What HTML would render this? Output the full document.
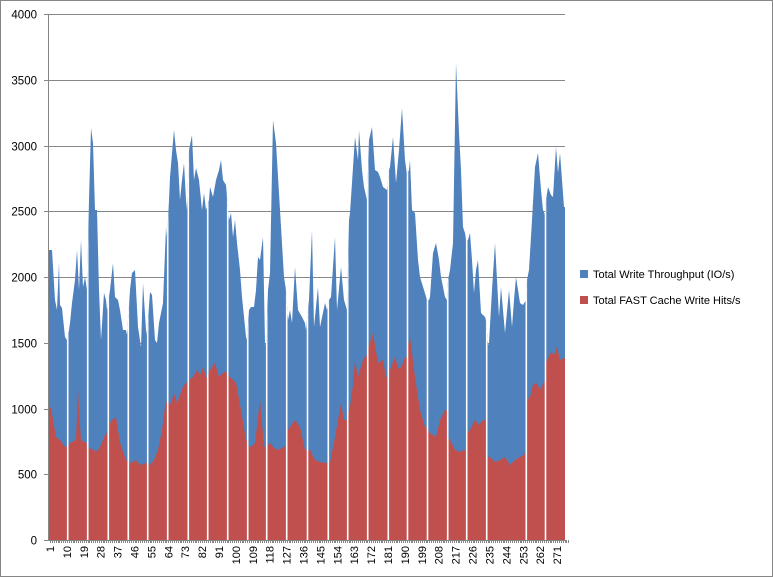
<!DOCTYPE html>
<html><head><meta charset="utf-8"><style>
html,body{margin:0;padding:0;background:#fff;}
svg{display:block;font-family:"Liberation Sans",sans-serif;}
</style></head><body>
<svg id="c" width="773" height="577" xmlns="http://www.w3.org/2000/svg">
<defs><clipPath id="bclip"><polygon id="bcp" points=""/></clipPath></defs>
<rect x="0.5" y="0.5" width="772" height="576" fill="#fff" stroke="#868686"/>
<g id="grid" stroke="#868686" stroke-width="1"></g>
<g id="series"></g>
<g id="gaps" stroke="#fff" stroke-width="1.6" clip-path="url(#bclip)"></g>
<g id="axes" stroke="#868686" stroke-width="1"></g>
<g id="ylab" font-size="11.5" fill="#000" text-anchor="end"></g>
<g id="xlab" font-size="11" fill="#000" text-anchor="end"></g>
<rect x="580" y="270" width="8" height="8" fill="#4f81bd"/>
<text x="593" y="278" font-size="11">Total Write Throughput (IO/s)</text>
<rect x="580" y="296" width="8" height="8" fill="#c0504d"/>
<text x="593" y="304" font-size="11">Total FAST Cache Write Hits/s</text>
</svg>
<script>
var NS="http://www.w3.org/2000/svg";
function el(p,t,a,txt){var e=document.createElementNS(NS,t);for(var k in a)e.setAttribute(k,a[k]);if(txt!=null)e.textContent=txt;document.getElementById(p).appendChild(e);return e;}
var y0=540,step=65.75;
for(var k=0;k<=8;k++){var y=Math.round(y0-k*step)+0.5;
 if(k>0)el("grid","line",{x1:48,x2:565,y1:y,y2:y});
 el("axes","line",{x1:44,x2:48.5,y1:y,y2:y});
 el("ylab","text",{x:37,y:y+4},String(k*500));}
el("axes","line",{x1:48.5,x2:48.5,y1:14,y2:540.5});
el("axes","line",{x1:48,x2:565,y1:540.5,y2:540.5});
for(var i=0;i<277;i++){var x=Math.round(50+i*1.878)+0.5;el("axes","line",{x1:x,x2:x,y1:540,y2:543});}
for(var n=1;n<=271;n+=9){var x=50+(n-1)*1.878;
 el("xlab","text",{x:0,y:0,transform:"translate("+(x+4)+",546) rotate(-90)"},String(n));}
var B=[[49,250],[50,250],[52,250],[55,300],[57,310],[59,263],[60,305],[62,308],[65,337],[67,340],
[69,330],[70,323],[72,303],[75,280],[77,250],[79,290],[81,240],[83,287],[85,277],[87,290],
[89,200],[91,128],[93,143],[95,210],[97,210],[99,290],[101,340],[104,293],[106,300],[107,310],
[110,290],[113,263],[115,297],[118,300],[120,310],[123,330],[126,330],[127,335],
[130,290],[132,273],[135,270],[138,327],[141,347],[143,283],[146,330],[147,335],
[150,292],[152,295],[155,340],[157,343],[159,323],[163,303],[166,227],[167,240],
[169,200],[170,177],[174,130],[176,150],[178,163],[180,200],[182,180],[184,163],[186,200],[187,210],
[189,150],[192,135],[194,180],[196,168],[199,180],[202,210],[204,193],[206,210],
[209,200],[210,187],[213,197],[216,180],[219,170],[221,160],[223,180],[226,185],
[229,220],[231,213],[233,237],[235,220],[237,243],[240,270],[242,297],[246,337],[247,340],
[249,310],[251,307],[254,307],[256,290],[258,257],[260,260],[263,237],[265,343],[266,345],
[268,290],[270,273],[273,120],[276,143],[280,210],[284,277],[286,290],
[288,320],[290,310],[292,323],[295,267],[298,310],[302,317],[305,323],[306,330],
[309,300],[312,230],[314,327],[318,287],[320,327],[325,303],[327,310],
[329,300],[331,297],[335,237],[337,310],[341,267],[344,300],[347,310],
[349,220],[350,213],[355,137],[358,160],[359,130],[362,170],[364,187],[367,200],
[369,140],[372,127],[375,170],[378,172],[380,177],[383,187],[387,190],
[389,170],[390,167],[393,137],[396,183],[399,150],[402,108],[405,160],[407,175],
[409,170],[410,160],[412,210],[415,213],[418,260],[420,277],[424,290],[427,300],
[429,300],[430,297],[433,253],[436,243],[439,260],[441,277],[445,297],[447,300],
[448,280],[450,270],[453,243],[456,63],[459,133],[461,170],[463,227],[465,233],[466,240],
[468,240],[470,233],[472,260],[474,293],[476,270],[478,260],[481,313],[485,317],[486,320],
[488,345],[489,343],[492,290],[495,243],[497,280],[499,317],[501,287],[505,333],[509,290],[512,327],[514,300],[516,277],[518,290],[520,303],[523,305],[526,300],
[527,280],[529,270],[532,220],[535,167],[538,153],[541,190],[543,210],[545,215],
[546,200],[548,187],[551,195],[553,197],[556,147],[558,173],[560,153],[562,180],[564,207],[565,207]];
var R=[[49,410],[51,407],[53,420],[56,437],[60,440],[65,447],[67,447],
[69,445],[70,443],[76,440],[78,390],[80,425],[81,440],[86,443],[87,443],
[89,450],[91,448],[96,452],[100,447],[105,435],[107,433],
[109,425],[112,420],[116,417],[118,430],[120,443],[126,460],[127,460],
[129,463],[131,463],[136,460],[140,465],[146,463],[147,463],
[149,465],[150,465],[154,460],[158,450],[162,430],[165,407],[167,400],
[169,405],[171,403],[174,393],[177,403],[180,395],[183,387],[186,383],[187,383],
[189,380],[193,377],[197,370],[200,375],[203,367],[206,377],[207,377],
[209,372],[210,370],[215,363],[219,377],[224,372],[227,372],
[229,377],[230,377],[236,383],[241,410],[246,440],[247,440],
[249,447],[251,447],[255,443],[260,400],[264,447],[266,447],
[268,445],[270,443],[274,448],[278,450],[284,447],[286,445],
[288,430],[290,427],[295,420],[300,427],[305,450],[306,450],
[309,450],[310,450],[315,460],[320,462],[325,463],[327,463],
[329,463],[330,463],[335,437],[338,420],[341,403],[344,420],[347,420],
[349,410],[350,407],[353,385],[355,360],[358,377],[363,360],[367,355],
[369,345],[373,333],[378,363],[383,360],[386,377],[387,377],
[389,372],[390,370],[395,357],[399,370],[403,363],[405,357],[407,357],
[409,340],[410,337],[415,377],[420,410],[425,427],[427,428],
[429,432],[430,433],[436,437],[440,420],[445,410],[447,410],
[448,438],[450,440],[455,450],[460,452],[464,450],[466,450],
[468,432],[470,430],[475,420],[479,425],[483,420],[486,420],
[488,457],[490,457],[495,462],[500,460],[505,457],[510,465],[515,460],[520,457],[524,455],[526,450],
[527,400],[530,397],[533,385],[537,383],[540,390],[545,380],
[546,362],[547,360],[551,352],[554,355],[557,347],[560,360],[564,358],[565,358]];
function pts(p){var s="49,540.5 ";p.forEach(function(q){s+=q[0]+","+q[1]+" ";});return s+"565,540.5";}
el("series","polygon",{points:pts(B),fill:"#4f81bd"});
el("series","polygon",{points:pts(R),fill:"#c0504d"});
document.getElementById("bcp").setAttribute("points",pts(B));
var gx=[67.7,87.7,108.3,128.3,147.7,167.7,188.3,207.7,227.7,247.7,266.7,286.7,307.5,328.3,347.7,367.7,388.3,407.5,427.5,447.7,466.7,486.7,526.3,545.5];
gx.forEach(function(x){el("gaps","line",{x1:x,x2:x,y1:40,y2:540});});
</script>
</body></html>
